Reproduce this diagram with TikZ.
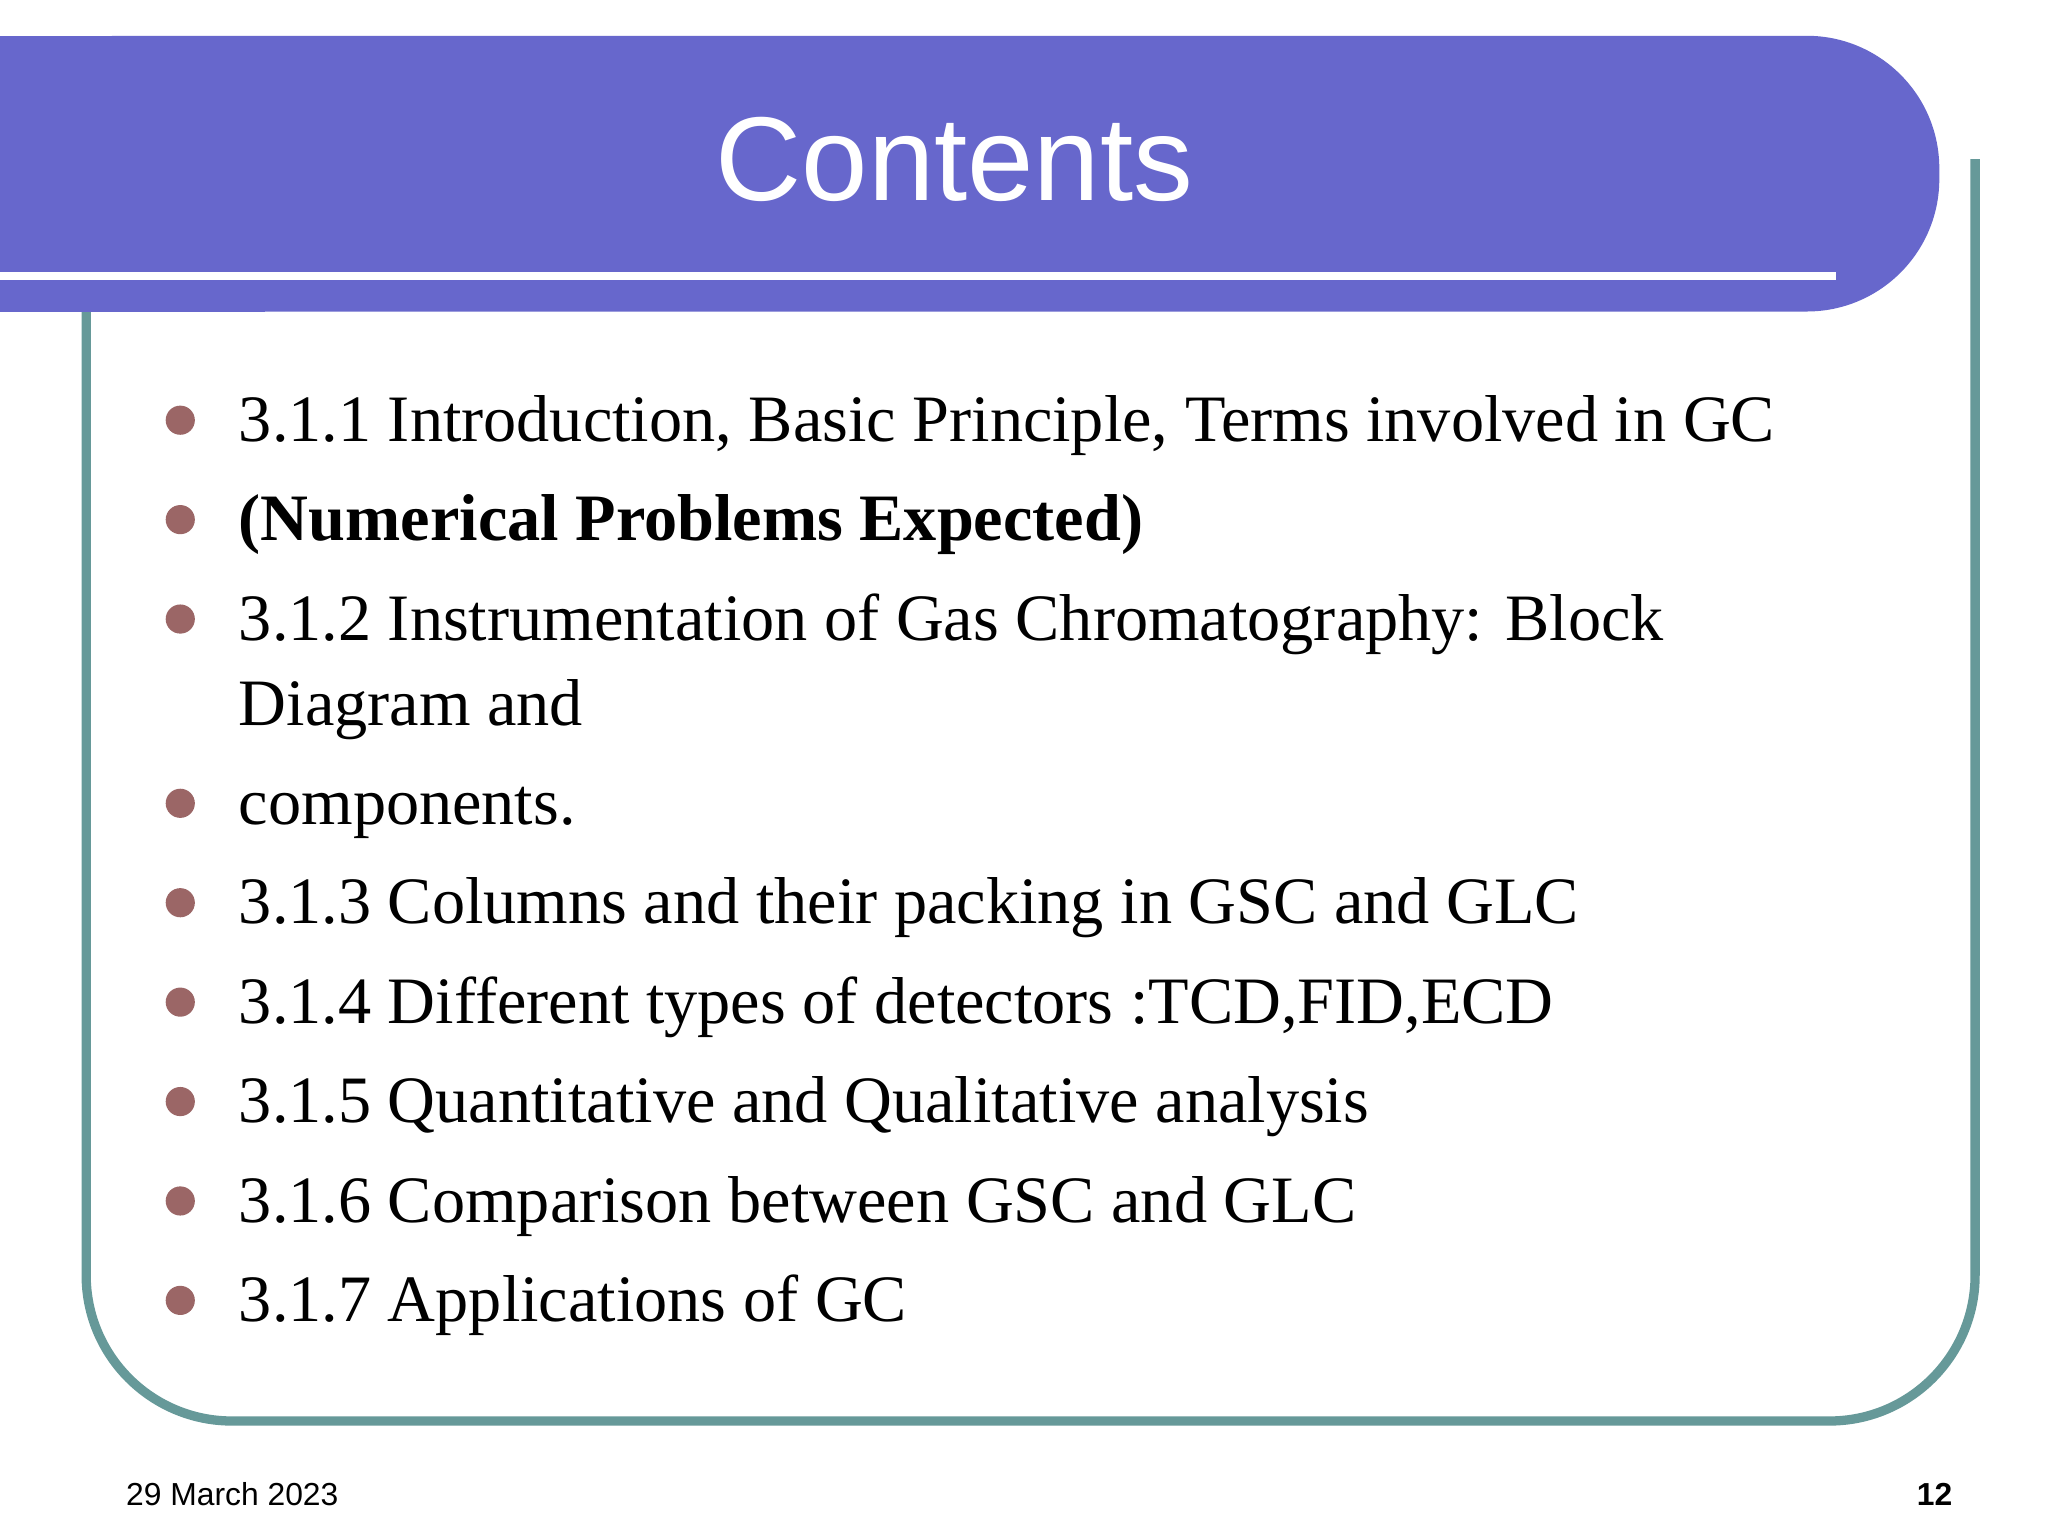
\documentclass[tikz,border=0pt]{standalone}
\usepackage{fontspec}
\setmainfont{Liberation Serif}
\newfontfamily\ttl{Liberation Sans}
\definecolor{banner}{RGB}{103,103,204}
\definecolor{frame}{RGB}{102,153,153}
\definecolor{dot}{RGB}{155,102,102}
\begin{document}
\begin{tikzpicture}[x=1pt,y=-1pt,
  item/.style={anchor=base west,font=\fontsize{50}{60}\selectfont,inner sep=0},
  bul/.style={circle,fill=dot,minimum size=22pt,inner sep=0}]
\useasboundingbox (0,0) rectangle (1545,1159);
\fill[white] (0,0) rectangle (1545,1159);
\draw[frame,line width=7pt,rounded corners=110pt] (65,120) -- (65,1072) -- (1490,1072) -- (1490,120);
\fill[banner,rounded corners=100pt] (-10,27) -- (1463,27) -- (1463,235) -- (-10,235) -- cycle;
\fill[banner] (-10,27) rectangle (200,235);
\fill[white] (0,205) rectangle (1385,211);
\node[text=white,font=\ttl\fontsize{90}{100}\selectfont] (t) at (720,120) {Contents};
\foreach \y/\n in {317/a,392/b,467/c,606/d,681/e,756/f,831/g,906/h,981/i}
  \node[bul] (d\n) at (136,\y) {};
\node[item] (ta) at (180,333) {3.1.1 Introduction, Basic Principle, Terms involved in GC};
\node[item] (tb) at (180,408) {\textbf{(Numerical Problems Expected)}};
\node[item] (tc) at (180,483) {3.1.2 Instrumentation of Gas Chromatography: Block};
\node[item] (tc2) at (180,547) {Diagram and};
\node[item] (td) at (180,622) {components.};
\node[item] (te) at (180,697) {3.1.3 Columns and their packing in GSC and GLC};
\node[item] (tf) at (180,772) {3.1.4 Different types of detectors :TCD,FID,ECD};
\node[item] (tg) at (180,847) {3.1.5 Quantitative and Qualitative analysis};
\node[item] (th) at (180,922) {3.1.6 Comparison between GSC and GLC};
\node[item] (ti) at (180,997) {3.1.7 Applications of GC};
\node[anchor=base west,inner sep=0,font=\ttl\fontsize{24}{28}\selectfont] (date) at (95,1136) {29 March 2023};
\node[anchor=base east,inner sep=0,font=\ttl\bfseries\fontsize{24}{28}\selectfont] (pg) at (1473,1136) {12};
\end{tikzpicture}
\end{document}
